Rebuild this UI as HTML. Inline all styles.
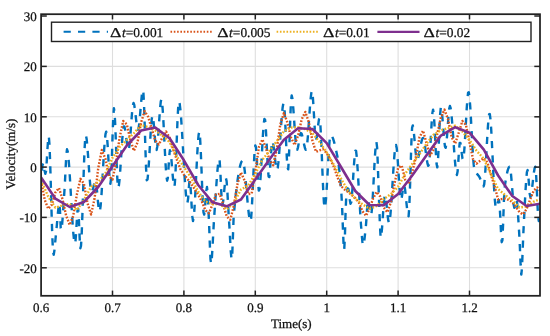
<!DOCTYPE html>
<html><head><meta charset="utf-8"><title>Velocity vs Time</title>
<style>
html,body{margin:0;padding:0;background:#fff;}
body{width:550px;height:336px;overflow:hidden;}
svg{display:block;}
.t{font-family:"Liberation Serif","Times New Roman",serif;font-size:13px;fill:#111;stroke:#111;stroke-width:0.25px;text-rendering:geometricPrecision;}
</style></head><body>
<svg width="550" height="336" viewBox="0 0 550 336">
<rect width="550" height="336" fill="#fff"/>
<line x1="112.5" y1="14.2" x2="112.5" y2="295.8" stroke="#dedede" stroke-width="1.1"/>
<line x1="183.9" y1="14.2" x2="183.9" y2="295.8" stroke="#dedede" stroke-width="1.1"/>
<line x1="255.3" y1="14.2" x2="255.3" y2="295.8" stroke="#dedede" stroke-width="1.1"/>
<line x1="326.7" y1="14.2" x2="326.7" y2="295.8" stroke="#dedede" stroke-width="1.1"/>
<line x1="398.1" y1="14.2" x2="398.1" y2="295.8" stroke="#dedede" stroke-width="1.1"/>
<line x1="469.5" y1="14.2" x2="469.5" y2="295.8" stroke="#dedede" stroke-width="1.1"/>
<line x1="41.1" y1="267.8" x2="540.0" y2="267.8" stroke="#dedede" stroke-width="1.1"/>
<line x1="41.1" y1="217.4" x2="540.0" y2="217.4" stroke="#dedede" stroke-width="1.1"/>
<line x1="41.1" y1="167.1" x2="540.0" y2="167.1" stroke="#dedede" stroke-width="1.1"/>
<line x1="41.1" y1="116.8" x2="540.0" y2="116.8" stroke="#dedede" stroke-width="1.1"/>
<line x1="41.1" y1="66.4" x2="540.0" y2="66.4" stroke="#dedede" stroke-width="1.1"/>
<clipPath id="c"><rect x="41.1" y="14.2" width="498.9" height="281.6"/></clipPath>
<g clip-path="url(#c)" fill="none" stroke-linejoin="round">
<polyline points="41.1,185.0 41.8,173.1 42.5,165.0 43.2,163.2 43.9,166.3 44.6,170.7 45.3,173.8 46.0,171.5 46.7,162.0 47.4,149.7 48.1,139.5 48.8,136.2 49.5,144.8 50.2,163.6 50.9,188.1 51.6,213.8 52.3,236.4 53.0,251.4 53.7,254.7 54.4,250.6 55.1,243.4 55.8,235.8 56.5,229.1 57.2,221.1 57.9,213.1 58.6,206.6 59.3,203.2 60.0,210.3 60.7,228.1 61.4,230.1 62.1,224.7 62.8,215.8 63.5,205.1 64.2,194.3 64.9,183.3 65.6,168.6 66.3,155.1 67.0,149.3 67.7,151.3 68.4,157.0 69.1,165.5 69.8,176.0 70.5,187.8 71.2,200.2 71.9,212.4 72.6,223.5 73.3,233.0 74.0,239.9 74.7,243.6 75.4,242.3 76.1,233.0 76.8,220.7 77.5,210.7 78.2,208.7 78.9,220.1 79.6,236.9 80.3,248.3 81.0,246.0 81.7,233.6 82.4,214.5 83.1,192.0 83.8,169.5 84.5,150.4 85.2,138.0 85.9,135.2 86.6,138.7 87.3,145.6 88.0,154.8 88.7,165.0 89.4,175.0 90.1,183.6 90.8,189.7 91.5,192.0 92.2,191.1 92.9,188.9 93.6,186.1 94.3,183.4 95.0,181.5 95.7,181.2 96.4,185.0 97.1,191.9 97.8,200.0 98.5,207.2 99.2,211.5 99.9,211.2 100.6,206.2 101.3,197.7 102.0,186.8 102.7,174.5 103.4,162.1 104.1,150.4 104.8,140.8 105.5,134.1 106.2,131.7 106.9,135.4 107.6,144.7 108.3,156.9 109.0,169.3 109.7,179.2 110.4,183.9 111.1,178.1 111.8,160.3 112.5,137.9 113.2,118.1 113.9,108.2 114.6,112.4 115.3,126.2 116.0,145.1 116.7,164.7 117.4,180.4 118.1,187.9 118.8,186.1 119.5,180.1 120.2,171.0 120.9,160.2 121.6,149.1 122.3,138.9 123.0,130.9 123.7,126.5 124.4,126.5 125.1,129.6 125.8,134.4 126.5,140.0 127.2,145.1 127.9,148.8 128.6,149.9 129.3,146.8 130.0,139.8 130.7,130.7 131.4,120.9 132.1,112.0 132.8,105.5 133.5,103.0 134.2,104.8 134.9,109.2 135.6,115.2 136.3,121.4 137.0,126.6 137.7,129.7 138.4,129.3 139.1,125.0 139.8,118.0 140.5,109.7 141.2,101.5 141.9,94.5 142.6,90.2 143.3,91.0 144.0,103.8 144.7,125.0 145.4,148.8 146.1,169.2 146.8,180.3 147.5,179.5 148.2,173.0 148.9,163.0 149.6,151.0 150.3,138.6 151.0,127.5 151.7,119.3 152.4,115.7 153.1,117.7 153.8,124.1 154.5,132.8 155.2,141.5 155.9,147.9 156.6,149.9 157.3,146.4 158.0,138.6 158.7,128.5 159.4,117.7 160.1,108.0 160.8,101.3 161.5,99.3 162.2,103.3 162.9,112.4 163.6,124.8 164.3,139.1 165.0,153.4 165.7,166.2 166.4,175.9 167.1,180.7 167.8,178.2 168.5,168.1 169.2,156.6 169.9,150.1 170.6,152.0 171.3,158.1 172.0,166.6 172.7,175.4 173.4,182.8 174.1,186.8 174.8,184.2 175.5,172.6 176.2,155.3 176.9,135.9 177.6,118.0 178.3,105.4 179.0,101.4 179.7,103.9 180.4,109.6 181.1,117.9 181.8,128.3 182.5,139.9 183.2,152.2 183.9,164.5 184.6,176.1 185.3,186.5 186.0,194.8 186.7,200.5 187.4,203.0 188.1,198.8 188.8,188.4 189.5,180.5 190.2,182.5 190.9,192.3 191.6,205.1 192.3,216.2 193.0,221.0 193.7,217.9 194.4,209.7 195.1,197.8 195.8,183.8 196.5,168.9 197.2,154.9 197.9,143.0 198.6,134.8 199.3,131.7 200.0,136.7 200.7,149.5 201.4,166.7 202.1,185.2 202.8,201.5 203.5,212.4 204.2,214.6 204.9,209.0 205.6,199.6 206.3,190.9 207.0,187.0 207.7,194.2 208.4,208.9 209.1,224.0 209.8,243.4 210.5,259.6 211.2,263.6 211.9,257.4 212.6,245.8 213.3,232.1 214.0,219.4 214.7,209.6 215.4,199.3 216.1,188.8 216.8,178.7 217.5,169.8 218.2,163.1 218.9,159.1 219.6,159.8 220.3,170.6 221.0,186.4 221.7,200.2 222.4,204.9 223.1,201.8 223.8,195.3 224.5,187.7 225.2,181.2 225.9,178.1 226.6,181.0 227.3,190.3 228.0,202.8 228.7,215.4 229.4,226.4 230.1,239.4 230.8,251.6 231.5,259.1 232.2,256.0 232.9,237.1 233.6,218.0 234.3,209.6 235.0,202.5 235.7,195.8 236.4,189.5 237.1,183.8 237.8,178.7 238.5,174.1 239.2,170.1 239.9,166.8 240.6,164.1 241.3,162.2 242.0,161.0 242.7,160.6 243.4,162.0 244.1,165.8 244.8,171.4 245.5,178.5 246.2,186.3 246.9,194.4 247.6,202.4 248.3,209.5 249.0,215.4 249.7,219.5 250.4,221.3 251.1,218.3 251.8,208.5 252.5,194.4 253.2,178.6 253.9,163.4 254.6,151.5 255.3,145.4 256.0,147.5 256.7,157.5 257.4,170.9 258.1,183.4 258.8,190.6 259.5,189.4 260.2,182.7 260.9,172.2 261.6,159.4 262.3,146.1 263.0,133.8 263.7,124.2 264.4,118.9 265.1,119.8 265.8,128.0 266.5,140.9 267.2,155.4 267.9,168.3 268.6,176.5 269.3,177.1 270.0,169.9 270.7,158.7 271.4,147.8 272.1,141.4 272.8,141.9 273.5,145.7 274.2,151.4 274.9,157.8 275.6,163.8 276.3,168.3 277.0,170.0 277.7,168.0 278.4,162.4 279.1,154.4 279.8,144.7 280.5,134.3 281.2,124.0 281.9,114.9 282.6,107.8 283.3,103.7 284.0,103.9 284.7,112.2 285.4,126.1 286.1,142.3 286.8,157.3 287.5,167.5 288.2,169.3 288.9,158.3 289.6,138.9 290.3,117.6 291.0,100.9 291.7,95.5 292.4,98.6 293.1,105.7 293.8,115.2 294.5,125.7 295.2,135.8 295.9,144.1 296.6,149.1 297.3,149.7 298.0,147.3 298.7,143.4 299.4,139.0 300.1,135.2 300.8,133.1 301.5,133.5 302.2,135.5 302.9,138.5 303.6,142.0 304.3,145.4 305.0,148.2 305.7,149.8 306.4,149.2 307.1,144.8 307.8,137.3 308.5,127.8 309.2,117.6 309.9,107.6 310.6,99.1 311.3,93.2 312.0,91.0 312.7,95.0 313.4,104.8 314.1,117.3 314.8,129.4 315.5,137.9 316.2,139.8 316.9,136.4 317.6,130.4 318.3,124.0 319.0,119.2 319.7,118.4 320.4,125.2 321.1,138.3 321.8,155.2 322.5,173.3 323.2,189.9 323.9,202.3 324.6,207.9 325.3,205.9 326.0,198.9 326.7,188.5 327.4,176.1 328.1,163.2 328.8,151.2 329.5,141.7 330.2,136.0 330.9,135.1 331.6,135.6 332.3,136.8 333.0,138.5 333.7,140.6 334.4,143.1 335.1,145.9 335.8,148.9 336.5,152.2 337.2,155.5 337.9,159.3 338.6,164.3 339.3,170.2 340.0,177.2 340.7,185.0 341.4,193.7 342.1,206.7 342.8,225.6 343.5,242.6 344.2,250.0 344.9,236.8 345.6,211.4 346.3,195.0 347.0,190.7 347.7,188.3 348.4,188.9 349.1,193.8 349.8,199.9 350.5,203.7 351.2,202.5 351.9,196.2 352.6,186.5 353.3,175.4 354.0,164.5 354.7,155.6 355.4,150.6 356.1,151.1 356.8,157.3 357.5,167.3 358.2,178.9 358.9,190.0 359.6,201.7 360.3,214.4 361.0,225.0 361.7,234.1 362.4,241.9 363.1,245.3 363.8,243.5 364.5,238.9 365.2,232.6 365.9,225.9 366.6,216.9 367.3,205.6 368.0,200.0 368.7,202.1 369.4,206.8 370.1,211.8 370.8,214.8 371.5,213.3 372.2,206.1 372.9,194.8 373.6,181.3 374.3,167.5 375.0,155.1 375.7,145.9 376.4,141.8 377.1,147.3 377.8,164.2 378.5,185.7 379.2,205.0 379.9,224.4 380.6,237.7 381.3,235.7 382.0,228.6 382.7,218.7 383.4,208.4 384.1,199.9 384.8,195.3 385.5,196.2 386.2,201.0 386.9,208.0 387.6,215.1 388.3,220.7 389.0,223.0 389.7,220.8 390.4,214.9 391.1,206.2 391.8,195.5 392.5,184.0 393.2,172.5 393.9,161.8 394.6,153.1 395.3,147.2 396.0,145.0 396.7,147.9 397.4,155.5 398.1,166.0 398.8,177.4 399.5,188.1 400.2,196.2 400.9,199.9 401.6,198.4 402.3,194.0 403.0,188.9 403.7,185.4 404.4,185.7 405.1,189.7 405.8,196.1 406.5,203.4 407.2,210.1 407.9,215.0 408.6,216.3 409.3,207.0 410.0,187.5 410.7,163.9 411.4,142.0 412.1,127.6 412.8,125.4 413.5,129.4 414.2,136.2 414.9,144.2 415.6,151.9 416.3,157.7 417.0,160.0 417.7,159.2 418.4,157.0 419.1,153.8 419.8,150.1 420.5,146.3 421.2,142.8 421.9,139.9 422.6,138.3 423.3,138.2 424.0,140.4 424.7,144.4 425.4,149.3 426.1,154.7 426.8,159.6 427.5,163.6 428.2,165.8 428.9,164.8 429.6,157.9 430.3,146.9 431.0,134.1 431.7,122.1 432.4,113.1 433.1,109.6 433.8,114.1 434.5,125.2 435.2,139.6 435.9,153.7 436.6,164.1 437.3,167.4 438.0,160.3 438.7,145.9 439.4,129.0 440.1,114.6 440.8,107.5 441.5,109.3 442.2,115.3 442.9,123.8 443.6,132.9 444.3,141.2 445.0,146.7 445.7,147.7 446.4,143.4 447.1,135.4 447.8,125.6 448.5,116.1 449.2,108.9 449.9,106.0 450.6,107.9 451.3,113.0 452.0,120.5 452.7,129.7 453.4,139.8 454.1,149.9 454.8,159.2 455.5,167.1 456.2,172.6 456.9,175.0 457.6,171.6 458.3,161.8 459.0,150.6 459.7,142.9 460.4,142.9 461.1,147.5 461.8,153.7 462.5,158.7 463.2,159.7 463.9,155.1 464.6,146.0 465.3,134.2 466.0,121.2 466.7,108.9 467.4,98.8 468.1,92.7 468.8,92.2 469.5,97.2 470.2,106.1 470.9,117.8 471.6,130.9 472.3,144.0 473.0,155.7 473.7,164.7 474.4,169.7 475.1,171.3 475.8,172.5 476.5,173.4 477.2,174.1 477.9,174.9 478.6,175.7 479.3,176.7 480.0,178.1 480.7,180.0 481.4,182.2 482.1,184.2 482.8,185.8 483.5,186.5 484.2,184.4 484.9,177.4 485.6,167.0 486.3,154.6 487.0,141.7 487.7,129.7 488.4,120.1 489.1,114.4 489.8,114.0 490.5,119.4 491.2,129.4 491.9,142.6 492.6,157.4 493.3,172.6 494.0,186.6 494.7,198.2 495.4,205.7 496.1,208.0 496.8,206.6 497.5,204.0 498.2,201.4 498.9,200.0 499.6,204.5 500.3,217.4 501.0,232.1 501.7,242.2 502.4,240.3 503.1,224.1 503.8,203.4 504.5,188.9 505.2,183.7 505.9,179.1 506.6,175.2 507.3,171.9 508.0,169.4 508.7,167.6 509.4,166.8 510.1,167.5 510.8,172.2 511.5,179.8 512.2,188.6 512.9,197.3 513.6,204.2 514.3,207.8 515.0,206.7 515.7,202.8 516.4,200.1 517.1,202.6 517.8,210.7 518.5,221.9 519.2,233.5 519.9,247.5 520.6,264.7 521.3,274.6 522.0,267.8 522.7,249.4 523.4,232.0 524.1,218.5 524.8,204.3 525.5,190.8 526.2,179.7 526.9,172.2 527.6,170.1 528.3,175.4 529.0,184.9 529.7,193.8 530.4,197.0 531.1,194.9 531.8,190.5 532.5,184.6 533.2,178.2 533.9,172.5 534.6,168.3 535.3,166.7 536.0,172.7 536.7,186.7 537.4,203.3 538.1,216.5 538.8,221.0 539.5,219.8 540.2,216.1 540.9,209.2" stroke="#0072BD" stroke-width="2.4" stroke-dasharray="7.2 7.2"/>
<polyline points="41.1,181.0 44.7,199.7 48.2,208.8 51.8,204.8 55.4,192.4 59.0,188.0 62.5,199.2 66.1,215.5 69.7,224.9 73.2,215.9 76.8,194.8 80.4,178.8 83.9,183.6 87.5,203.2 91.1,214.5 94.6,198.3 98.2,168.4 101.8,150.0 105.4,158.7 108.9,176.3 112.5,179.6 116.1,162.1 119.6,137.6 123.2,121.0 126.8,124.4 130.3,139.7 133.9,150.7 137.5,142.6 141.1,122.4 144.6,111.2 148.2,116.9 151.8,129.1 155.3,140.7 158.9,144.5 162.5,137.3 166.1,131.5 169.6,137.7 173.2,149.6 176.8,159.6 180.3,168.8 183.9,174.7 187.5,178.9 191.0,183.7 194.6,189.0 198.2,194.7 201.7,201.1 205.3,210.1 208.9,213.3 212.5,204.6 216.0,194.4 219.6,193.8 223.2,204.3 226.7,216.4 230.3,219.8 233.9,205.4 237.5,184.1 241.0,172.5 244.6,180.6 248.2,194.2 251.7,193.5 255.3,171.7 258.9,147.1 262.4,139.4 266.0,148.1 269.6,160.2 273.2,165.3 276.7,149.5 280.3,124.3 283.9,113.1 287.4,122.5 291.0,137.6 294.6,145.0 298.1,135.5 301.7,119.4 305.3,111.9 308.9,122.5 312.4,140.7 316.0,151.8 319.6,150.4 323.1,149.2 326.7,153.2 330.3,159.0 333.8,166.7 337.4,177.0 341.0,186.0 344.5,189.5 348.1,191.9 351.7,194.9 355.3,198.1 358.8,202.2 362.4,211.1 366.0,215.8 369.5,209.0 373.1,198.5 376.7,191.9 380.2,196.5 383.8,207.7 387.4,212.3 391.0,201.9 394.5,183.6 398.1,168.0 401.7,165.6 405.2,179.8 408.8,183.7 412.4,171.6 416.0,156.6 419.5,137.2 423.1,130.7 426.7,144.0 430.2,155.4 433.8,149.1 437.4,133.4 440.9,117.3 444.5,109.6 448.1,119.5 451.7,137.4 455.2,143.5 458.8,132.6 462.4,121.0 465.9,124.8 469.5,142.3 473.1,159.6 476.6,163.7 480.2,160.7 483.8,158.1 487.4,162.5 490.9,174.5 494.5,185.9 498.1,199.4 501.6,199.1 505.2,198.6 508.8,199.9 512.3,202.0 515.9,206.8 519.5,212.2 523.0,214.4 526.6,209.0 530.2,199.3 533.8,190.4 537.3,187.5 540.9,191.8" stroke="#D95319" stroke-width="2.4" stroke-dasharray="1.7 1.6"/>
<polyline points="41.1,180.0 48.2,196.6 55.4,207.6 62.5,205.5 69.7,203.8 76.8,210.0 83.9,200.1 91.1,186.8 98.2,182.2 105.4,173.3 112.5,157.8 119.6,147.0 126.8,139.9 133.9,133.3 141.1,125.0 148.2,127.0 155.3,130.5 162.5,135.5 169.6,142.1 176.8,156.6 183.9,166.8 191.0,177.6 198.2,191.7 205.3,201.4 212.5,204.1 219.6,204.1 226.7,209.2 233.9,202.7 241.0,189.5 248.2,185.7 255.3,173.9 262.4,159.7 269.6,150.8 276.7,141.3 283.9,131.4 291.0,127.6 298.1,127.3 305.3,129.2 312.4,133.1 319.6,142.1 326.7,152.5 333.8,164.7 341.0,178.5 348.1,190.8 355.3,198.7 362.4,204.2 369.5,208.8 376.7,206.0 383.8,199.0 391.0,194.0 398.1,186.7 405.2,173.7 412.4,163.8 419.5,154.0 426.7,143.6 433.8,134.6 440.9,130.2 448.1,128.2 455.2,125.7 462.4,131.6 469.5,140.0 476.6,150.8 483.8,158.8 490.9,174.2 498.1,189.0 505.2,195.2 512.3,200.4 519.5,207.5 526.6,206.4 533.8,201.6 540.9,199.0" stroke="#EDB120" stroke-width="2.4" stroke-dasharray="1.7 1.6"/>
<polyline points="41.1,177.4 55.4,198.7 69.7,207.0 83.9,202.0 98.2,187.0 112.5,166.3 126.8,145.5 141.1,130.5 155.3,127.6 169.6,138.3 183.9,160.3 198.2,185.0 212.5,202.3 226.7,206.3 241.0,199.5 255.3,179.5 269.6,159.3 283.9,139.7 298.1,128.3 312.4,129.0 326.7,143.1 341.0,167.0 355.3,191.0 369.5,205.0 383.8,205.3 398.1,194.0 412.4,175.3 426.7,155.0 440.9,135.6 455.2,127.2 469.5,132.6 483.8,149.6 498.1,175.5 512.3,196.0 526.6,206.0 540.9,203.6" stroke="#7E2F8E" stroke-width="2.6"/>
</g>
<rect x="41.1" y="14.2" width="498.9" height="281.6" fill="none" stroke="#222" stroke-width="1.75"/>
<line x1="112.5" y1="295.8" x2="112.5" y2="290.6" stroke="#222" stroke-width="1.5"/>
<line x1="112.5" y1="14.2" x2="112.5" y2="19.4" stroke="#222" stroke-width="1.5"/>
<line x1="183.9" y1="295.8" x2="183.9" y2="290.6" stroke="#222" stroke-width="1.5"/>
<line x1="183.9" y1="14.2" x2="183.9" y2="19.4" stroke="#222" stroke-width="1.5"/>
<line x1="255.3" y1="295.8" x2="255.3" y2="290.6" stroke="#222" stroke-width="1.5"/>
<line x1="255.3" y1="14.2" x2="255.3" y2="19.4" stroke="#222" stroke-width="1.5"/>
<line x1="326.7" y1="295.8" x2="326.7" y2="290.6" stroke="#222" stroke-width="1.5"/>
<line x1="326.7" y1="14.2" x2="326.7" y2="19.4" stroke="#222" stroke-width="1.5"/>
<line x1="398.1" y1="295.8" x2="398.1" y2="290.6" stroke="#222" stroke-width="1.5"/>
<line x1="398.1" y1="14.2" x2="398.1" y2="19.4" stroke="#222" stroke-width="1.5"/>
<line x1="469.5" y1="295.8" x2="469.5" y2="290.6" stroke="#222" stroke-width="1.5"/>
<line x1="469.5" y1="14.2" x2="469.5" y2="19.4" stroke="#222" stroke-width="1.5"/>
<line x1="41.1" y1="267.8" x2="46.8" y2="267.8" stroke="#222" stroke-width="1.5"/>
<line x1="540.0" y1="267.8" x2="534.3" y2="267.8" stroke="#222" stroke-width="1.5"/>
<line x1="41.1" y1="217.4" x2="46.8" y2="217.4" stroke="#222" stroke-width="1.5"/>
<line x1="540.0" y1="217.4" x2="534.3" y2="217.4" stroke="#222" stroke-width="1.5"/>
<line x1="41.1" y1="167.1" x2="46.8" y2="167.1" stroke="#222" stroke-width="1.5"/>
<line x1="540.0" y1="167.1" x2="534.3" y2="167.1" stroke="#222" stroke-width="1.5"/>
<line x1="41.1" y1="116.8" x2="46.8" y2="116.8" stroke="#222" stroke-width="1.5"/>
<line x1="540.0" y1="116.8" x2="534.3" y2="116.8" stroke="#222" stroke-width="1.5"/>
<line x1="41.1" y1="66.4" x2="46.8" y2="66.4" stroke="#222" stroke-width="1.5"/>
<line x1="540.0" y1="66.4" x2="534.3" y2="66.4" stroke="#222" stroke-width="1.5"/>
<line x1="41.1" y1="16.0" x2="46.8" y2="16.0" stroke="#222" stroke-width="1.5"/>
<line x1="540.0" y1="16.0" x2="534.3" y2="16.0" stroke="#222" stroke-width="1.5"/>
<text x="41.1" y="312.4" text-anchor="middle" class="t">0.6</text>
<text x="112.5" y="312.4" text-anchor="middle" class="t">0.7</text>
<text x="183.9" y="312.4" text-anchor="middle" class="t">0.8</text>
<text x="255.3" y="312.4" text-anchor="middle" class="t">0.9</text>
<text x="326.7" y="312.4" text-anchor="middle" class="t">1</text>
<text x="398.1" y="312.4" text-anchor="middle" class="t">1.1</text>
<text x="469.5" y="312.4" text-anchor="middle" class="t">1.2</text>
<text x="36.8" y="272.7" text-anchor="end" class="t">-20</text>
<text x="36.8" y="222.3" text-anchor="end" class="t">-10</text>
<text x="36.8" y="172.0" text-anchor="end" class="t">0</text>
<text x="36.8" y="121.7" text-anchor="end" class="t">10</text>
<text x="36.8" y="71.3" text-anchor="end" class="t">20</text>
<text x="36.8" y="20.9" text-anchor="end" class="t">30</text>
<text x="291.3" y="328" text-anchor="middle" class="t">Time(s)</text>
<text transform="translate(15.4,154) rotate(-90)" text-anchor="middle" class="t">Velocity(m/s)</text>
<rect x="51.5" y="22.2" width="479.5" height="19.3" fill="#fff" stroke="#222" stroke-width="1.4"/>
<line x1="63.6" y1="31.8" x2="108" y2="31.8" stroke="#0072BD" stroke-width="2.1" stroke-dasharray="7.2 7.2"/>
<line x1="170.5" y1="31.8" x2="211.8" y2="31.8" stroke="#D95319" stroke-width="2.0" stroke-dasharray="1.6 1.7"/>
<line x1="276.6" y1="31.8" x2="318" y2="31.8" stroke="#EDB120" stroke-width="2.0" stroke-dasharray="1.6 1.7"/>
<line x1="377.4" y1="31.8" x2="419.5" y2="31.8" stroke="#7E2F8E" stroke-width="2.2"/>
<text transform="translate(110.0,36.6) scale(1.36,1.04)" class="t">Δ</text><text x="121.9" y="36.6" class="t" style="font-size:13.4px"><tspan font-style="italic">t</tspan>=0.001</text>
<text transform="translate(217.2,36.6) scale(1.36,1.04)" class="t">Δ</text><text x="229.1" y="36.6" class="t" style="font-size:13.4px"><tspan font-style="italic">t</tspan>=0.005</text>
<text transform="translate(323.0,36.6) scale(1.36,1.04)" class="t">Δ</text><text x="334.9" y="36.6" class="t" style="font-size:13.4px"><tspan font-style="italic">t</tspan>=0.01</text>
<text transform="translate(423.6,36.6) scale(1.36,1.04)" class="t">Δ</text><text x="435.5" y="36.6" class="t" style="font-size:13.4px"><tspan font-style="italic">t</tspan>=0.02</text>
</svg>
</body></html>
